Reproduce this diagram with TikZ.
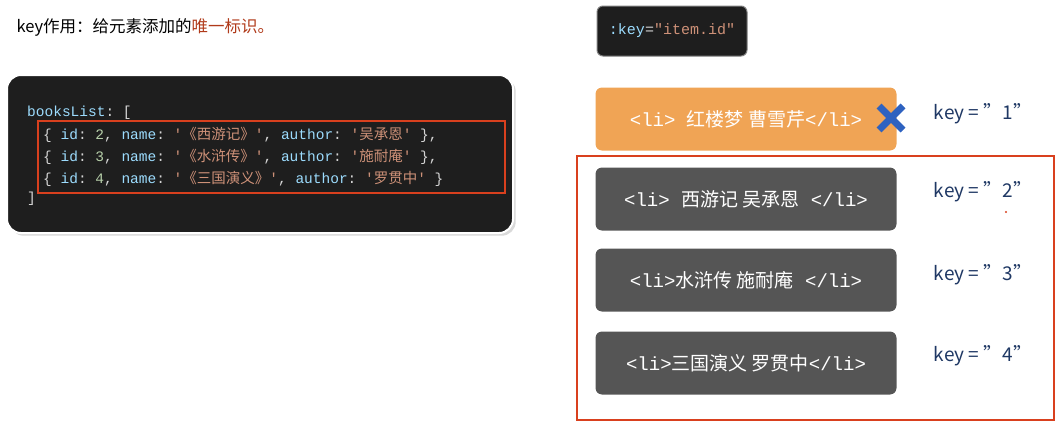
\documentclass[tikz,border=0pt]{standalone}
\usepackage{fontspec}
\usetikzlibrary{shadows}
\setmainfont{Noto Sans CJK SC}
\setmonofont{Liberation Mono}
\newfontfamily\cjk{Noto Sans CJK SC}
\definecolor{codebg}{HTML}{1E1E1E}
\definecolor{ckey}{HTML}{9CDCFE}
\definecolor{cnum}{HTML}{B5CEA8}
\definecolor{cstr}{HTML}{CE9178}
\definecolor{cpun}{HTML}{D4D4D4}
\definecolor{redmark}{HTML}{D9401E}
\definecolor{titlered}{HTML}{B03A1A}
\definecolor{orangebox}{HTML}{F0A455}
\definecolor{graybox}{HTML}{555555}
\definecolor{navy}{HTML}{1F3864}
\definecolor{xblue}{HTML}{2E62C0}
\newcommand{\K}[1]{\textcolor{ckey}{#1}}
\newcommand{\N}[1]{\textcolor{cnum}{#1}}
\newcommand{\Sg}[1]{\textcolor{cstr}{#1}}
\begin{document}
\begin{tikzpicture}[x=1pt,y=-1pt,
  libox/.style={rounded corners=7pt,minimum width=303pt,minimum height=65pt,draw=white,line width=2pt,text=white,font=\fontsize{19}{22}\selectfont\ttfamily},
  keylab/.style={text=navy,font=\fontsize{19}{22}\selectfont},
  codeline/.style={anchor=west,font=\fontsize{14.5}{17}\selectfont\ttfamily,text=cpun,inner sep=0pt}]
\useasboundingbox (0,0) rectangle (1060,432);
\node[anchor=west,font=\fontsize{16.5}{20}\selectfont] (title) at (13,27) {key作用：给元素添加的\textcolor{titlered}{唯一标识。}};
% code box
\node[draw=white,line width=2pt,fill=codebg,rounded corners=14pt,minimum width=506pt,minimum height=158pt,drop shadow={opacity=0.3}] (code) at (260,154) {};
\node[codeline] (l0) at (27,113) {\K{booksList}: [};
\node[codeline] (l1) at (43,135) {\{ \K{id}: \N{2}, \K{name}: \Sg{'{\cjk《西游记》}'}, \K{author}: \Sg{'{\cjk 吴承恩}'} \},};
\node[codeline] (l2) at (43,157) {\{ \K{id}: \N{3}, \K{name}: \Sg{'{\cjk《水浒传》}'}, \K{author}: \Sg{'{\cjk 施耐庵}'} \},};
\node[codeline] (l3) at (43,179) {\{ \K{id}: \N{4}, \K{name}: \Sg{'{\cjk《三国演义》}'}, \K{author}: \Sg{'{\cjk 罗贯中}'} \}};
\node[codeline] (l4) at (27,199) {]};
\draw[redmark,line width=2.2pt] (38,121) rectangle (505,193);
% key box
\node[fill=codebg,draw=gray,line width=1pt,rounded corners=6pt,minimum width=150pt,minimum height=50pt,font=\fontsize{15}{18}\selectfont\ttfamily,text=cpun] (keybox) at (672,31) {\K{:key}=\Sg{"item.id"}};
% li boxes
\node[libox,fill=orangebox] (b1) at (746,119) {<li> {\cjk 红楼梦\ 曹雪芹}</li>};
\coordinate (x1) at (891,118);
\draw[xblue,line width=7pt] ([shift={(-12,-12)}]x1) -- ([shift={(12,12)}]x1);
\draw[xblue,line width=7pt] ([shift={(-12,12)}]x1) -- ([shift={(12,-12)}]x1);
\node[libox,fill=graybox] (b2) at (746,199) {<li> {\cjk 西游记\ 吴承恩}\ </li>};
\node[libox,fill=graybox] (b3) at (746,280) {<li>{\cjk 水浒传\ 施耐庵}\ </li>};
\node[libox,fill=graybox] (b4) at (746,363) {<li>{\cjk 三国演义\ 罗贯中}</li>};
\node[keylab] (k1) at (983,114) {key = "1"};
\node[keylab] (k2) at (983,192) {key = "2"};
\node[keylab] (k3) at (983,275) {key = "3"};
\node[keylab] (k4) at (983,356) {key = "4"};
\fill[redmark] (1006,212) circle (1.2pt);
\draw[redmark,line width=2.2pt] (577,156) rectangle (1054,420);
\end{tikzpicture}
\end{document}
